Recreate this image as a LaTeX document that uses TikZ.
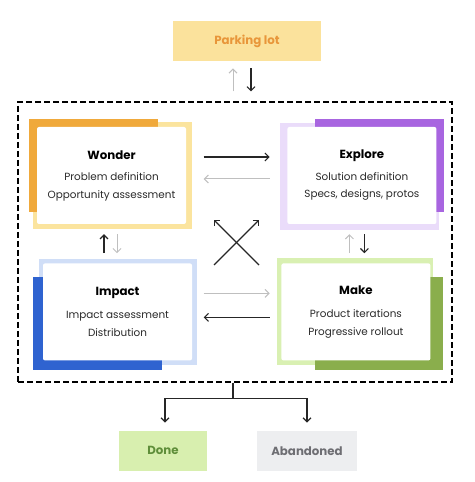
\documentclass[tikz,border=0pt]{standalone}
\usepackage{fontspec}
\setmainfont{Poppins}
\usetikzlibrary{positioning, arrows.meta, calc, backgrounds}

\definecolor{parkfill}{HTML}{FBE29C}
\definecolor{parktext}{HTML}{E8963A}
\definecolor{wonderdark}{HTML}{F0A93B}
\definecolor{wonderlight}{HTML}{FBE49E}
\definecolor{exploredark}{HTML}{A865E0}
\definecolor{explorelight}{HTML}{EADCFA}
\definecolor{impactdark}{HTML}{2F63D0}
\definecolor{impactlight}{HTML}{D0DEF7}
\definecolor{makedark}{HTML}{8AAE4C}
\definecolor{makelight}{HTML}{D9F0B2}
\definecolor{donefill}{HTML}{D8EFAF}
\definecolor{donetext}{HTML}{5F8E3A}
\definecolor{abandonfill}{HTML}{EDEEF0}
\definecolor{abandontext}{HTML}{6E6E73}
\definecolor{bodytext}{HTML}{2A2A2A}

\newcommand{\cardtitle}[1]{{\color{black}\fontsize{11.8}{13}\selectfont\bfseries #1}}

\begin{document}
\begin{tikzpicture}[
            x=1pt, y=1pt,
            card/.style={fill=white, rounded corners=2pt, minimum width=149pt, minimum height=97pt, inner sep=0pt, align=center, text=bodytext, font=\fontsize{10.4}{17.5}\selectfont},
            outcome/.style={minimum height=40pt, inner sep=0pt, font=\fontsize{11.8}{13}\selectfont\bfseries},
            frame/.style={draw, dashed, dash pattern=on 6pt off 3pt, line width=1.1pt, minimum width=434pt, minimum height=280pt},
            arrow/.style={-{Straight Barb[length=4pt, width=8pt]}, line width=1.1pt, draw=black!85},
            faint/.style={arrow, line width=1pt, draw=black!25},
            wide/.style={shorten <=17.5pt, shorten >=17.5pt},
            narrow/.style={shorten <=11.5pt, shorten >=11.5pt},
            tall/.style={shorten <=10pt, shorten >=10pt}
        ]
        \useasboundingbox (0,0) rectangle (474,482);

        % Loop frame
        \node[frame] (loop) at (235,240) {};

        % Cards
        \node[card] (wonder) at (111.5,306.5) {\cardtitle{Wonder}\\[4pt] Problem definition\\ Opportunity assessment};
        \node[card, right=101pt of wonder] (explore) {\cardtitle{Explore}\\[4pt] Solution definition\\ Specs, designs, protos};
        \node[card, below=39pt of wonder, xshift=6pt] (impact) {\cardtitle{Impact}\\[6pt] Impact assessment\\ Distribution};
        \node[card, right=89pt of impact] (make) {\cardtitle{Make}\\[6pt] Product iterations\\ Progressive rollout};

        % Card backings
        \begin{scope}[on background layer]
        \fill[wonderlight] ($(wonder.south west)+(-4,-5)$) rectangle ($(wonder.north east)+(6,5)$);
        \fill[wonderdark] ($(wonder.north west)+(-8,8)$) rectangle +(129,-93);
        \fill[explorelight] ($(explore.south west)+(-7,-6)$) rectangle ($(explore.north east)+(2,4)$);
        \fill[exploredark] ($(explore.north east)+(7,8)$) rectangle +(-129,-93);
        \fill[impactlight] ($(impact.south west)+(-4,-4)$) rectangle ($(impact.north east)+(5,4)$);
        \fill[impactdark] ($(impact.south west)+(-10,-9)$) rectangle +(129,93);
        \fill[makelight] ($(make.south west)+(-4,-4)$) rectangle ($(make.north east)+(2,5)$);
        \fill[makedark] ($(make.south east)+(12,-9)$) rectangle +(-128,93);
        \end{scope}

        % Parking lot
        \node[outcome, fill=parkfill, text=parktext, minimum width=148pt, above=40pt of loop, xshift=12pt] (park) {Parking lot};
        \draw[faint, shorten <=10pt, shorten >=7pt] ([xshift=-14pt]park.south |- loop.north) -- ([xshift=-14pt]park.south);
        \draw[arrow, shorten <=7pt, shorten >=10pt] ([xshift=4pt]park.south) -- ([xshift=4pt]park.south |- loop.north);

        % Arrows between cards
        \draw[arrow, wide] ([yshift=18.5pt]wonder.east) -- ([yshift=18.5pt]explore.west);
        \draw[faint, wide] ([yshift=-3.5pt]explore.west) -- ([yshift=-3.5pt]wonder.east);
        \draw[faint, narrow] ([yshift=18.5pt]impact.east) -- ([yshift=18.5pt]make.west);
        \draw[arrow, narrow] ([yshift=-5.5pt]make.west) -- ([yshift=-5.5pt]impact.east);
        \draw[arrow, tall] ([xshift=-7.5pt]wonder.south |- impact.north) -- ([xshift=-7.5pt]wonder.south);
        \draw[faint, tall] ([xshift=5.5pt]wonder.south) -- ([xshift=5.5pt]wonder.south |- impact.north);
        \draw[faint, tall] ([xshift=-12.5pt]explore.south |- make.north) -- ([xshift=-12.5pt]explore.south);
        \draw[arrow, tall] ([xshift=2.5pt]explore.south) -- ([xshift=2.5pt]explore.south |- make.north);

        % Crossing arrows
        \draw[arrow] ([shift={(-21,-23)}]loop.center) -- ([shift={(24,22)}]loop.center);
        \draw[arrow] ([shift={(24,-23)}]loop.center) -- ([shift={(-21,22)}]loop.center);

        % Outcomes
        \node[outcome, fill=donefill, text=donetext, minimum width=88pt, below=48pt of loop, xshift=-72pt] (done) {Done};
        \node[outcome, fill=abandonfill, text=abandontext, minimum width=100pt, below=48pt of loop, xshift=72pt] (abandoned) {Abandoned};

        \draw[line width=1.1pt, draw=black!85] ([xshift=-2pt]loop.south) -- ++(0,-16) coordinate (fork);
        \draw[arrow, shorten >=8pt] (fork) -| ([xshift=2pt]done.north);
        \draw[arrow, shorten >=8pt] (fork) -| (abandoned.north);

        \end{tikzpicture}
\end{document}
